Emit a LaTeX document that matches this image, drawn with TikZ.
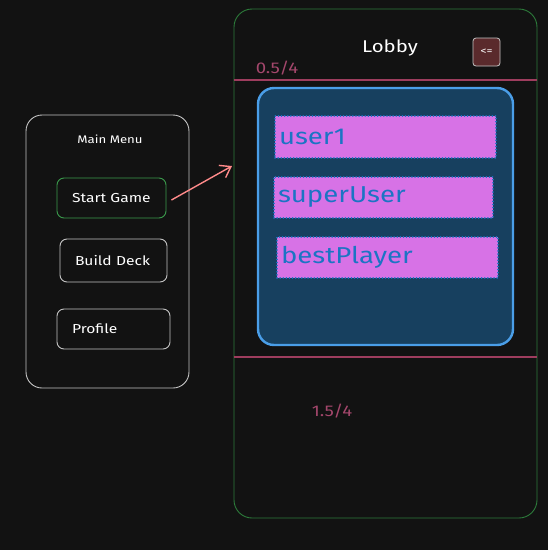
\documentclass[tikz,border=0pt]{standalone}
\usepackage{fontspec}
\setmainfont[FakeStretch=1.2]{Fira Sans}
\usepackage{xcolor}
\usepackage{tikz}
\usetikzlibrary{positioning, arrows.meta}

\definecolor{canvas}{HTML}{121212}
\definecolor{menugray}{HTML}{C4C4C4}
\definecolor{okgreen}{HTML}{3A9A4C}
\definecolor{framegreen}{HTML}{2C7A3A}
\definecolor{rowline}{HTML}{9E3D5E}
\definecolor{ratiotext}{HTML}{A4476C}
\definecolor{panelblue}{HTML}{17405F}
\definecolor{panelrim}{HTML}{4A9EE8}
\definecolor{rowpink}{HTML}{D772E6}
\definecolor{rowblue}{HTML}{1C74C4}
\definecolor{backred}{HTML}{5A2A2C}
\definecolor{linkred}{HTML}{FF8A8A}

\begin{document}
\begin{tikzpicture}[
    x=1pt, y=-1pt,
    screen/.style={rectangle, draw, rounded corners=16pt, line width=0.9pt},
    menubtn/.style={rectangle, draw=menugray, rounded corners=7pt, line width=0.9pt, inner xsep=15pt, align=left, text=white, font=\fontsize{13}{15}\selectfont},
    userrow/.style={rectangle, fill=rowpink, draw=rowblue, line width=1.6pt, dash pattern=on 0.1pt off 3pt, line cap=round, inner xsep=4pt, align=left, text=rowblue, font=\fontsize{23}{26}\selectfont},
    ratio/.style={text=ratiotext, font=\fontsize{15.5}{18}\selectfont},
    divider/.style={draw=rowline, line width=1.8pt},
    arrow/.style={-{Straight Barb[length=10pt, width=14pt]}, draw=linkred, line width=1.4pt}
]
    \fill[canvas] (0,0) rectangle (548,550);
    % main menu screen
    \node[screen, draw=menugray, minimum width=163pt, minimum height=273pt] (mainmenu) at (107.5,251.5) {};
    \node[text=white, font=\fontsize{11}{13}\selectfont] (menutitle) at (110,139) {Main Menu};
    \node[menubtn, draw=okgreen, text width=79pt, minimum height=40pt] (startgame) at (111.5,198) {Start Game};
    \node[menubtn, text width=77pt, minimum height=43pt] (builddeck) at (113.5,260.5) {Build Deck};
    \node[menubtn, text width=83pt, minimum height=40pt] (profile) at (113.5,329) {Profile};
    % lobby screen
    \node[screen, draw=framegreen, rounded corners=18pt, minimum width=303pt, minimum height=509pt] (lobby) at (385.5,263.5) {};
    \node[text=white, font=\fontsize{17}{20}\selectfont] (lobbytitle) at (390,48) {Lobby};
    \node[rectangle, fill=backred, draw=menugray, rounded corners=3pt, line width=0.8pt, minimum width=27pt, minimum height=28pt, text=white, font=\fontsize{10}{11}\selectfont] (back) at (486.5,52) {<=};
    \node[ratio] (toprate) at (277,68) {0.5/4};
    \draw[divider] (lobby.west |- 0,80) -- (lobby.east |- 0,80);
    \draw[divider] (lobby.west |- 0,357) -- (lobby.east |- 0,357);
    \node[ratio] (midrate) at (332,411) {1.5/4};
    \node[rectangle, fill=panelblue, draw=panelrim, line width=2.4pt, rounded corners=16pt, minimum width=255pt, minimum height=257pt] (panel) at (385.5,216.5) {};
    \node[userrow, text width=213pt, minimum height=42pt] (user1) at (385.5,137) {user1};
    \node[userrow, text width=211pt, minimum height=41pt] (superuser) at (383.5,197.5) {superUser};
    \node[userrow, text width=213pt, minimum height=41pt] (bestplayer) at (387.5,257.5) {bestPlayer};
    % link
    \coordinate (lobbyin) at (232,166);
    \draw[arrow] ([xshift=5pt, yshift=-2pt]startgame.east) -- (lobbyin);
\end{tikzpicture}
\end{document}
